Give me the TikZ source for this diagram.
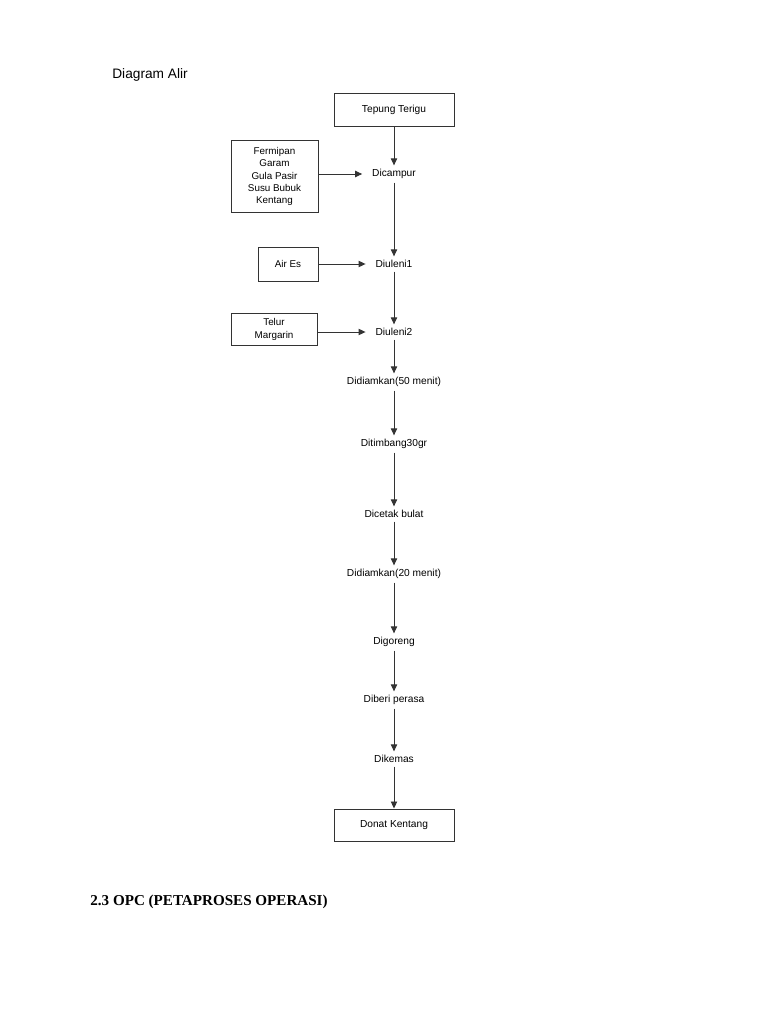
\documentclass[tikz,border=0pt]{standalone}
\usepackage{fontspec}
\setmainfont{Liberation Sans}
\newfontfamily\headfont{Liberation Serif}
\usepackage{tikz}
\usetikzlibrary{arrows.meta, positioning}
\definecolor{flowgray}{HTML}{333333}
\tikzset{
  stepnode/.style={inner sep=2pt,font=\fontsize{5.8}{7}\selectfont},
  boxnode/.style={stepnode,draw=flowgray,line width=0.55pt,minimum width=2.4cm,minimum height=0.66cm},
  inbox/.style={stepnode,draw=flowgray,line width=0.55pt,align=center,font=\fontsize{5.6}{6.9}\selectfont},
  flowedge/.style={-{Triangle[width=3.6pt,length=4pt]},line width=0.55pt,flowgray},
}

\begin{document}
\begin{tikzpicture}[x=0.02cm,y=-0.02cm]
  \useasboundingbox (0,0) rectangle (768,1024);
  \node[anchor=west,inner sep=0pt,font=\fontsize{7.8}{9}\selectfont] (nTitle) at (112,75) {Diagram Alir};
  \node[boxnode] (nTepung) at (394,109.5) {Tepung Terigu};
  \node[inbox,minimum width=1.74cm,minimum height=1.44cm] (nBahan) at (274.5,176.5) {Fermipan\\Garam\\Gula Pasir\\Susu Bubuk\\Kentang};
  \node[stepnode] (nDicampur) at (394,174) {Dicampur};
  \node[inbox,minimum width=1.2cm,minimum height=0.68cm] (nAirEs) at (288,264) {Air Es};
  \node[stepnode] (nDiuleniA) at (394,264) {Diuleni1};
  \node[inbox,minimum width=1.72cm,minimum height=0.64cm] (nTelur) at (274,329.5) {Telur\\Margarin};
  \node[stepnode] (nDiuleniB) at (394,332) {Diuleni2};
  \node[stepnode] (nDiamA) at (394,382) {Didiamkan(50 menit)};
  \node[stepnode] (nTimbang) at (394,444) {Ditimbang30gr};
  \node[stepnode] (nCetak) at (394,514) {Dicetak bulat};
  \node[stepnode] (nDiamB) at (394,574) {Didiamkan(20 menit)};
  \node[stepnode] (nGoreng) at (394,642) {Digoreng};
  \node[stepnode] (nPerasa) at (394,700) {Diberi perasa};
  \node[stepnode] (nKemas) at (394,759) {Dikemas};
  \node[boxnode,minimum height=0.64cm] (nDonat) at (394,825) {Donat Kentang};
  \node[anchor=west,inner sep=0pt,font=\headfont\bfseries\fontsize{8.6}{10}\selectfont] (nHead) at (90,902) {2.3 OPC (PETAPROSES OPERASI)};
  % main line
  \draw[flowedge] (nTepung) -- (nDicampur);
  \draw[flowedge] (nDicampur) -- (nDiuleniA);
  \draw[flowedge] (nDiuleniA) -- (nDiuleniB);
  \draw[flowedge] (nDiuleniB) -- (nDiamA);
  \draw[flowedge] (nDiamA) -- (nTimbang);
  \draw[flowedge] (nTimbang) -- (nCetak);
  \draw[flowedge] (nCetak) -- (nDiamB);
  \draw[flowedge] (nDiamB) -- (nGoreng);
  \draw[flowedge] (nGoreng) -- (nPerasa);
  \draw[flowedge] (nPerasa) -- (nKemas);
  \draw[flowedge] (nKemas) -- (nDonat);
  % inputs
  \draw[flowedge] (nBahan.east |- nDicampur) -- ([xshift=-3.5pt]nDicampur.west);
  \draw[flowedge] (nAirEs.east |- nDiuleniA) -- ([xshift=-3.5pt]nDiuleniA.west);
  \draw[flowedge] (nTelur.east |- nDiuleniB) -- ([xshift=-3.5pt]nDiuleniB.west);
\end{tikzpicture}
\end{document}
